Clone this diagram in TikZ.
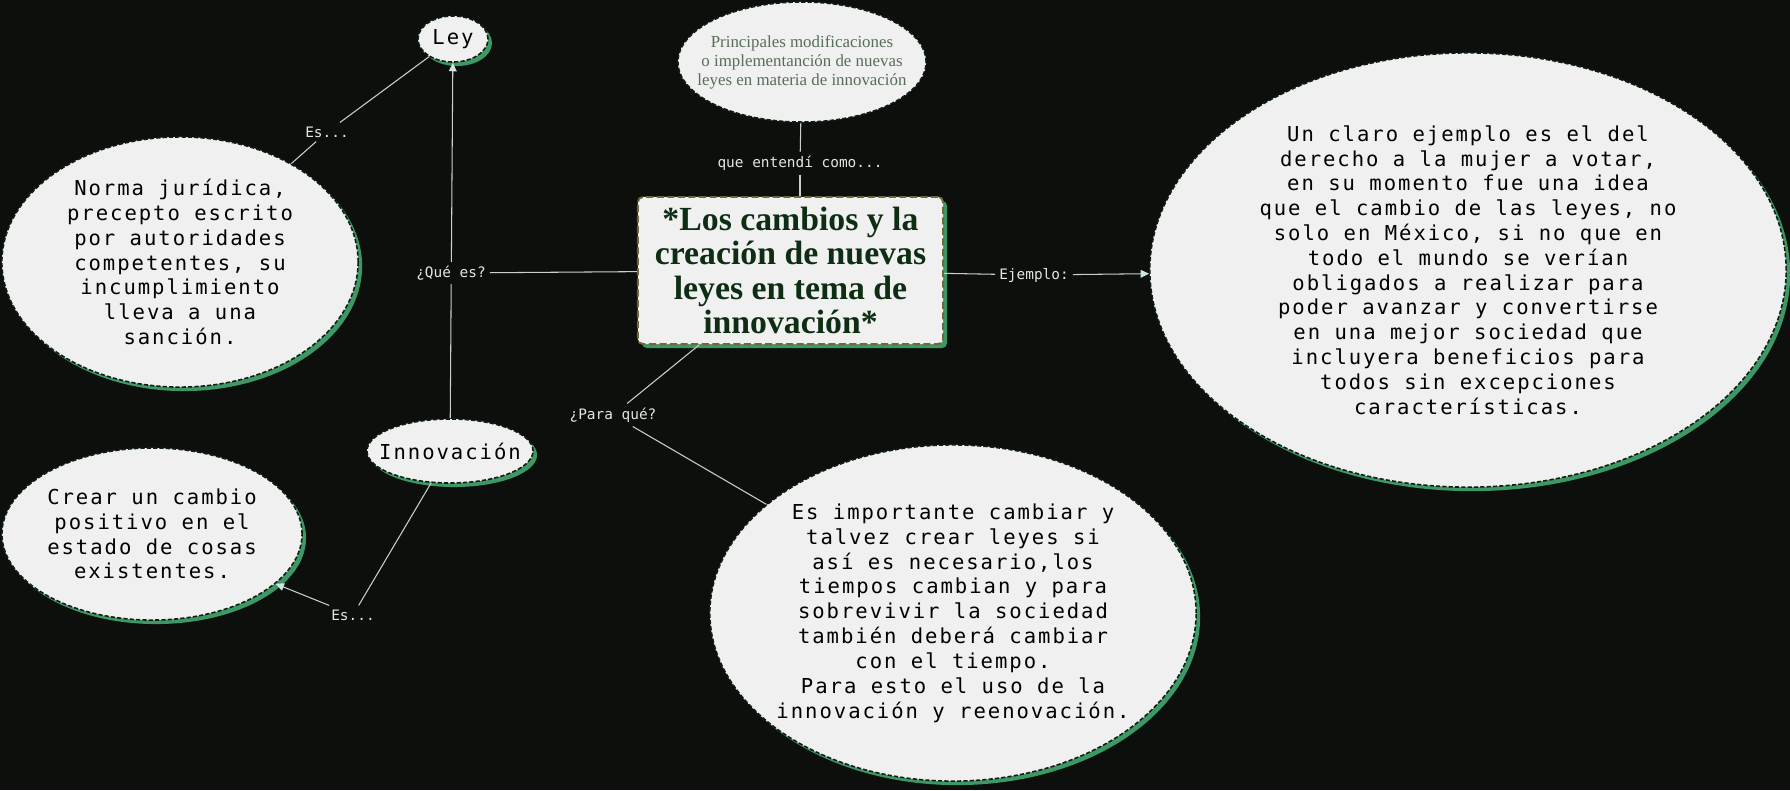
\documentclass[tikz,border=0pt]{standalone}
\usepackage{fontspec}
\usetikzlibrary{shapes.geometric,shadows,arrows.meta}

\newfontfamily\bodyfont{DejaVu Sans Mono}[LetterSpace=9.6]
\newfontfamily\labelfont{DejaVu Sans Mono}
\newfontfamily\titlefont{Liberation Serif}

\definecolor{fondo}{HTML}{0D0F0D}
\definecolor{papel}{HTML}{F0F0F0}
\definecolor{borde}{HTML}{0E1F11}
\definecolor{sombra}{HTML}{3D9866}
\definecolor{oliva}{HTML}{6F6838}
\definecolor{tinta}{HTML}{0E2E14}
\definecolor{gris}{HTML}{C9CFCF}
\definecolor{puntagris}{HTML}{CFE3E3}
\definecolor{etiqueta}{HTML}{E4E6E6}
\definecolor{salvia}{HTML}{566E58}

\begin{document}
\begin{tikzpicture}[x=0.01cm, y=-0.01cm,
	nube/.style={ellipse, draw=borde, fill=papel, line width=0.45pt, dash pattern=on 1.2pt off 0.6pt, inner sep=0pt},
	burbuja/.style={nube, drop shadow={shadow xshift=0.04cm, shadow yshift=-0.04cm, fill=sombra, opacity=1}},
	texto/.style={font=\bodyfont\fontsize{5.85}{7.06}\selectfont, align=center, text=black},
	serif/.style={font=\titlefont\fontsize{4.8}{5.4}\selectfont, align=center, text=salvia},
	rotulo/.style={font=\labelfont\fontsize{4.1}{5}\selectfont, text=etiqueta, fill=fondo, inner sep=1pt},
	enlace/.style={draw=gris, line width=0.3pt},
	flecha/.style={enlace, -{Triangle[length=2.4pt, width=2.2pt, color=puntagris]}}]

		\path[use as bounding box, fill=fondo] (0,0) rectangle (1790,790);

		\node[rectangle, rounded corners=0.05cm, draw=oliva, fill=papel, line width=0.55pt, dash pattern=on 2pt off 1pt,
			minimum width=3.05cm, minimum height=1.47cm, inner sep=0pt, align=center, text=tinta,
			font=\titlefont\bfseries\fontsize{9.6}{9.8}\selectfont,
			drop shadow={shadow xshift=0.04cm, shadow yshift=-0.04cm, fill=sombra, opacity=1}]
			(idea) at (790.5,270.5) {*Los cambios y la\\creación de nuevas\\leyes en tema de\\innovación*};

		\node[nube, minimum width=2.48cm, minimum height=1.20cm,
			label={[serif]center:{Principales modificaciones\\o implementanción de nuevas\\leyes en materia de innovación}}]
			(princ) at (802,62) {};

		\node[burbuja, minimum width=0.70cm, minimum height=0.46cm, label={[texto]center:Ley}] (ley) at (453,39) {};
		\node[burbuja, minimum width=3.56cm, minimum height=2.50cm,
			label={[texto]center:{Norma jurídica,\\precepto escrito\\por autoridades\\competentes, su\\incumplimiento\\lleva a una\\sanción.}}]
			(norma) at (180,262) {};
		\node[burbuja, minimum width=1.66cm, minimum height=0.64cm, label={[texto]center:Innovación}] (innov) at (450,451) {};
		\node[burbuja, minimum width=3.00cm, minimum height=1.72cm,
			label={[texto]center:{Crear un cambio\\positivo en el\\estado de cosas\\existentes.}}]
			(crear) at (152,534) {};
		\node[burbuja, minimum width=6.36cm, minimum height=4.34cm,
			label={[texto]center:{Un claro ejemplo es el del\\derecho a la mujer a votar,\\en su momento fue una idea\\que el cambio de las leyes, no\\solo en México, si no que en\\todo el mundo se verían\\obligados a realizar para\\poder avanzar y convertirse\\en una mejor sociedad que\\incluyera beneficios para\\todos sin excepciones\\características.}}]
			(ejemplo) at (1468,270) {};
		\node[burbuja, minimum width=4.86cm, minimum height=3.36cm,
			label={[texto]center:{Es importante cambiar y\\talvez crear leyes si\\así es necesario,los\\tiempos cambian y para\\sobrevivir la sociedad\\también deberá cambiar\\con el tiempo.\\Para esto el uso de la\\innovación y reenovación.}}]
			(cambiar) at (953,613) {};

		\draw[flecha] (innov) -- (ley);

		\node[rotulo] (es1) at (327,132) {Es...};
		\node[rotulo] (que) at (451,273) {¿Qué es?};
		\node[rotulo] (entendi) at (800,163) {que entendí como...};
		\node[rotulo] (ejlabel) at (1034,275) {Ejemplo:};
		\node[rotulo] (para) at (613,415) {¿Para qué?};
		\node[rotulo] (es2) at (353,615) {Es...};

		\draw[enlace] (ley) -- (es1);
		\draw[enlace] (es1) -- (norma);
		\draw[enlace] (que) -- (idea);
		\draw[enlace] (princ) -- (entendi);
		\draw[enlace] (entendi) -- (entendi |- idea.north);
		\draw[enlace] (idea) -- (ejlabel);
		\draw[flecha] (ejlabel) -- (ejemplo);
		\draw[enlace] (idea) -- (para);
		\draw[enlace] (para) -- (cambiar);
		\draw[enlace] (innov) -- (es2);
		\draw[flecha] (es2) -- (crear);

\end{tikzpicture}
\end{document}
